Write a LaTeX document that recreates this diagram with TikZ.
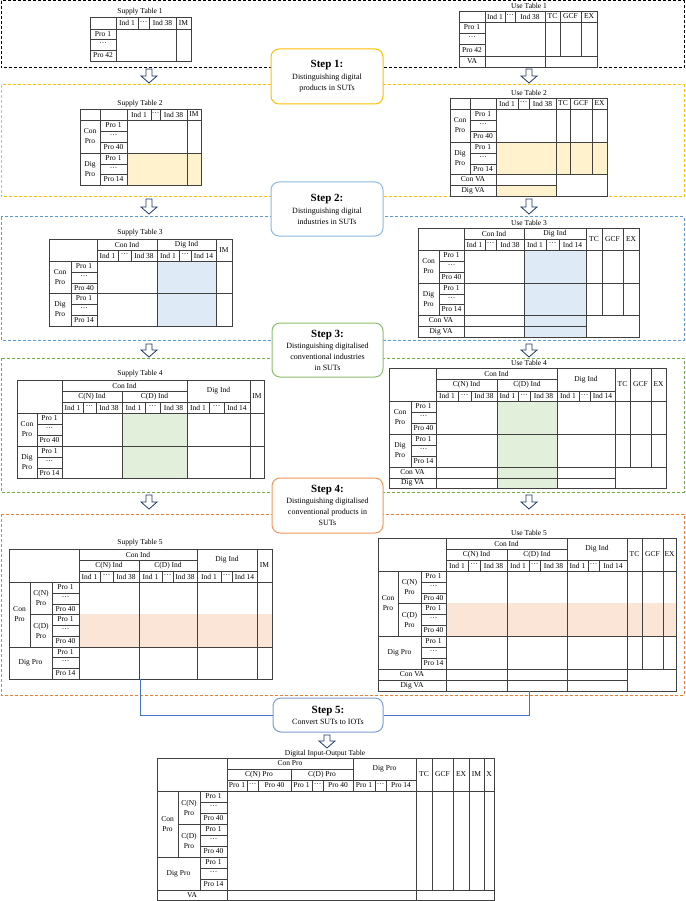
\documentclass[tikz,border=0pt]{standalone}
\usepackage{fontspec}
\setmainfont{Liberation Serif}
\definecolor{tline}{HTML}{404040}
\definecolor{fy}{HTML}{FFF2CC}
\definecolor{fb}{HTML}{DEEBF7}
\definecolor{fg}{HTML}{E2EFDA}
\definecolor{fo}{HTML}{FBE5D6}
\definecolor{cy}{HTML}{FFC000}
\definecolor{cb}{HTML}{5B9BD5}
\definecolor{cg}{HTML}{70AD47}
\definecolor{co}{HTML}{ED7D31}
\definecolor{navy}{HTML}{203864}
\definecolor{lnk}{HTML}{4472C4}
\newcounter{cc}
\tikzset{
 tl/.style={draw=tline,line width=0.6pt},
 tx/.style={inner sep=0pt,align=center,font=\fontsize{7.5}{10}\selectfont},
 ttlst/.style={inner sep=0pt,font=\fontsize{7.5}{9}\selectfont},
 frame/.style={line width=1pt,dash pattern=on 3pt off 2pt},
 stepbox/.style={draw,line width=1pt,rounded corners=8pt,fill=white,align=center,inner sep=0pt,font=\fontsize{8}{11}\selectfont},
 arr/.style={draw=navy,line width=0.8pt,fill=white},
 conn/.style={draw=lnk,line width=0.8pt}
}
\newcommand{\cel}[5]{\stepcounter{cc}\draw[tl] (#1,#2) rectangle (#3,#4); \node[tx] (n\arabic{cc}) at ({(#1+#3)/2},{(#2+#4)/2}) {#5};}
\newcommand{\fl}[5]{\fill[#5] (#1,#2) rectangle (#3,#4);}
\newcommand{\ttl}[3]{\stepcounter{cc}\node[ttlst] (t\arabic{cc}) at (#1,#2) {#3};}
\newcommand{\harrow}[3]{\draw[arr] ({#1-3},#2) -- ({#1+3},#2) -- ({#1+3},{#3-7}) -- ({#1+8},{#3-7}) -- (#1,#3) -- ({#1-8},{#3-7}) -- ({#1-3},{#3-7}) -- cycle;}
\newcommand{\dd}{···}
\begin{document}
\begin{tikzpicture}[x=1pt,y=-1pt]
\useasboundingbox (0,0) rectangle (685,901);
% frames
\draw[frame,black] (1,1) rectangle (684,68);
\draw[frame,cy] (1,85) rectangle (684,197);
\draw[frame,cb] (1,217) rectangle (684,340);
\draw[frame,cg] (1,358) rectangle (684,492);
\draw[frame,co] (1,514) rectangle (684,695);

% ---------- Supply Table 1
\ttl{140}{12}{Supply Table 1}
\cel{90}{17}{116}{29}{}\cel{116}{17}{138}{29}{Ind 1}\cel{138}{17}{149}{29}{\dd}\cel{149}{17}{176}{29}{Ind 38}\cel{176}{17}{191}{29}{IM}
\cel{90}{29}{116}{39}{Pro 1}\cel{90}{39}{116}{50}{\dd}\cel{90}{50}{116}{61}{Pro 42}
\cel{116}{29}{176}{61}{}\cel{176}{29}{191}{61}{}
% ---------- Use Table 1
\ttl{529}{6}{Use Table 1}
\cel{459}{11}{485}{22}{}\cel{485}{11}{505}{22}{Ind 1}\cel{505}{11}{515}{22}{\dd}\cel{515}{11}{545}{22}{Ind 38}\cel{545}{11}{560}{22}{TC}\cel{560}{11}{581}{22}{GCF}\cel{581}{11}{597}{22}{EX}
\cel{459}{22}{485}{33}{Pro 1}\cel{459}{33}{485}{44}{\dd}\cel{459}{44}{485}{56}{Pro 42}
\cel{485}{22}{545}{56}{}\cel{545}{22}{560}{56}{}\cel{560}{22}{581}{56}{}\cel{581}{22}{597}{56}{}
\cel{459}{56}{485}{67}{VA}\cel{485}{56}{545}{67}{}\cel{545}{56}{597}{67}{}

% ---------- Supply Table 2
\ttl{140}{104}{Supply Table 2}
\fl{127}{153}{201}{185}{fy}
\cel{80}{109}{100}{120}{}\cel{100}{109}{127}{120}{}\cel{127}{109}{151}{120}{Ind 1}\cel{151}{109}{160}{120}{\dd}\cel{160}{109}{187}{120}{Ind 38}\cel{187}{109}{201}{120}{IM}
\cel{80}{120}{100}{153}{Con\\Pro}\cel{100}{120}{127}{131}{Pro 1}\cel{100}{131}{127}{142}{\dd}\cel{100}{142}{127}{153}{Pro 40}
\cel{80}{153}{100}{185}{Dig\\Pro}\cel{100}{153}{127}{164}{Pro 1}\cel{100}{164}{127}{174}{\dd}\cel{100}{174}{127}{185}{Pro 14}
\cel{127}{120}{187}{153}{}\cel{187}{120}{201}{153}{}\cel{127}{153}{187}{185}{}\cel{187}{153}{201}{185}{}
% ---------- Use Table 2
\ttl{529}{93}{Use Table 2}
\fl{496}{142}{607}{174}{fy}\fl{496}{185}{556}{196}{fy}
\cel{450}{98}{470}{109}{}\cel{470}{98}{496}{109}{}\cel{496}{98}{518}{109}{Ind 1}\cel{518}{98}{529}{109}{\dd}\cel{529}{98}{556}{109}{Ind 38}\cel{556}{98}{570}{109}{TC}\cel{570}{98}{592}{109}{GCF}\cel{592}{98}{607}{109}{EX}
\cel{450}{109}{470}{142}{Con\\Pro}\cel{470}{109}{496}{120}{Pro 1}\cel{470}{120}{496}{131}{\dd}\cel{470}{131}{496}{142}{Pro 40}
\cel{450}{142}{470}{174}{Dig\\Pro}\cel{470}{142}{496}{153}{Pro 1}\cel{470}{153}{496}{164}{\dd}\cel{470}{164}{496}{174}{Pro 14}
\foreach \a/\b in {496/556,556/570,570/592,592/607}{\draw[tl] (\a,109) rectangle (\b,142); \draw[tl] (\a,142) rectangle (\b,174);}
\cel{450}{174}{496}{185}{Con VA}\cel{496}{174}{556}{185}{}\cel{450}{185}{496}{196}{Dig VA}\cel{496}{185}{556}{196}{}\cel{556}{174}{607}{196}{}

% ---------- Supply Table 3
\ttl{140}{233}{Supply Table 3}
\fl{157}{261}{216}{326}{fb}
\cel{49}{239}{97}{261}{}\cel{97}{239}{157}{250}{Con Ind}\cel{157}{239}{216}{250}{Dig Ind}\cel{216}{239}{232}{261}{IM}
\cel{97}{250}{118}{261}{Ind 1}\cel{118}{250}{131}{261}{\dd}\cel{131}{250}{157}{261}{Ind 38}\cel{157}{250}{179}{261}{Ind 1}\cel{179}{250}{191}{261}{\dd}\cel{191}{250}{216}{261}{Ind 14}
\cel{49}{261}{71}{293}{Con\\Pro}\cel{71}{261}{97}{272}{Pro 1}\cel{71}{272}{97}{283}{\dd}\cel{71}{283}{97}{293}{Pro 40}
\cel{49}{293}{71}{326}{Dig\\Pro}\cel{71}{293}{97}{304}{Pro 1}\cel{71}{304}{97}{315}{\dd}\cel{71}{315}{97}{326}{Pro 14}
\foreach \a/\b in {97/157,157/216,216/232}{\draw[tl] (\a,261) rectangle (\b,293); \draw[tl] (\a,293) rectangle (\b,326);}
% ---------- Use Table 3
\ttl{529}{223}{Use Table 3}
\fl{524}{250}{586}{337}{fb}
\cel{418}{228}{464}{250}{}\cel{464}{228}{524}{239}{Con Ind}\cel{524}{228}{586}{239}{Dig Ind}\cel{586}{228}{602}{250}{TC}\cel{602}{228}{623}{250}{GCF}\cel{623}{228}{639}{250}{EX}
\cel{464}{239}{485}{250}{Ind 1}\cel{485}{239}{496}{250}{\dd}\cel{496}{239}{524}{250}{Ind 38}\cel{524}{239}{546}{250}{Ind 1}\cel{546}{239}{559}{250}{\dd}\cel{559}{239}{586}{250}{Ind 14}
\cel{418}{250}{439}{283}{Con\\Pro}\cel{439}{250}{464}{261}{Pro 1}\cel{439}{261}{464}{272}{\dd}\cel{439}{272}{464}{283}{Pro 40}
\cel{418}{283}{439}{315}{Dig\\Pro}\cel{439}{283}{464}{294}{Pro 1}\cel{439}{294}{464}{304}{\dd}\cel{439}{304}{464}{315}{Pro 14}
\foreach \a/\b in {464/524,524/586,586/602,602/623,623/639}{\draw[tl] (\a,250) rectangle (\b,283); \draw[tl] (\a,283) rectangle (\b,315);}
\cel{418}{315}{464}{326}{Con VA}\cel{464}{315}{524}{326}{}\cel{524}{315}{586}{326}{}
\cel{418}{326}{464}{337}{Dig VA}\cel{464}{326}{524}{337}{}\cel{524}{326}{586}{337}{}
\cel{586}{315}{639}{337}{}

% ---------- Supply Table 4
\ttl{140}{374}{Supply Table 4}
\fl{122}{413}{187}{478}{fg}
\cel{17}{380}{62}{413}{}\cel{62}{380}{187}{391}{Con Ind}\cel{62}{391}{122}{402}{C(N) Ind}\cel{122}{391}{187}{402}{C(D) Ind}\cel{187}{380}{250}{402}{Dig Ind}\cel{250}{380}{264}{413}{IM}
\cel{62}{402}{83}{413}{Ind 1}\cel{83}{402}{96}{413}{\dd}\cel{96}{402}{122}{413}{Ind 38}\cel{122}{402}{145}{413}{Ind 1}\cel{145}{402}{160}{413}{\dd}\cel{160}{402}{187}{413}{Ind 38}\cel{187}{402}{209}{413}{Ind 1}\cel{209}{402}{224}{413}{\dd}\cel{224}{402}{250}{413}{Ind 14}
\cel{17}{413}{37}{446}{Con\\Pro}\cel{37}{413}{62}{424}{Pro 1}\cel{37}{424}{62}{435}{\dd}\cel{37}{435}{62}{446}{Pro 40}
\cel{17}{446}{37}{478}{Dig\\Pro}\cel{37}{446}{62}{457}{Pro 1}\cel{37}{457}{62}{468}{\dd}\cel{37}{468}{62}{478}{Pro 14}
\foreach \a/\b in {62/122,122/187,187/250,250/264}{\draw[tl] (\a,413) rectangle (\b,446); \draw[tl] (\a,446) rectangle (\b,478);}
% ---------- Use Table 4
\ttl{529}{363}{Use Table 4}
\fl{497}{401}{557}{488}{fg}
\cel{389}{368}{436}{401}{}\cel{436}{368}{557}{379}{Con Ind}\cel{436}{379}{497}{391}{C(N) Ind}\cel{497}{379}{557}{391}{C(D) Ind}\cel{557}{368}{615}{391}{Dig Ind}\cel{615}{368}{630}{401}{TC}\cel{630}{368}{651}{401}{GCF}\cel{651}{368}{666}{401}{EX}
\cel{436}{391}{458}{401}{Ind 1}\cel{458}{391}{471}{401}{\dd}\cel{471}{391}{497}{401}{Ind 38}\cel{497}{391}{518}{401}{Ind 1}\cel{518}{391}{530}{401}{\dd}\cel{530}{391}{557}{401}{Ind 38}\cel{557}{391}{579}{401}{Ind 1}\cel{579}{391}{590}{401}{\dd}\cel{590}{391}{615}{401}{Ind 14}
\cel{389}{401}{411}{434}{Con\\Pro}\cel{411}{401}{436}{412}{Pro 1}\cel{411}{412}{436}{423}{\dd}\cel{411}{423}{436}{434}{Pro 40}
\cel{389}{434}{411}{467}{Dig\\Pro}\cel{411}{434}{436}{445}{Pro 1}\cel{411}{445}{436}{456}{\dd}\cel{411}{456}{436}{467}{Pro 14}
\foreach \a/\b in {436/497,497/557,557/615,615/630,630/651,651/666}{\draw[tl] (\a,401) rectangle (\b,434); \draw[tl] (\a,434) rectangle (\b,467);}
\cel{389}{467}{436}{478}{Con VA}\cel{436}{467}{497}{478}{}\cel{497}{467}{557}{478}{}\cel{557}{467}{615}{478}{}
\cel{389}{478}{436}{488}{Dig VA}\cel{436}{478}{497}{488}{}\cel{497}{478}{557}{488}{}\cel{557}{478}{615}{488}{}
\cel{615}{467}{666}{488}{}

% ---------- Supply Table 5
\ttl{140}{543}{Supply Table 5}
\fl{79}{614}{272}{647}{fo}
\cel{9}{549}{79}{582}{}\cel{79}{549}{197}{560}{Con Ind}\cel{79}{560}{139}{571}{C(N) Ind}\cel{139}{560}{197}{571}{C(D) Ind}\cel{197}{549}{257}{571}{Dig Ind}\cel{257}{549}{272}{582}{IM}
\cel{79}{571}{100}{582}{Ind 1}\cel{100}{571}{113}{582}{\dd}\cel{113}{571}{139}{582}{Ind 38}\cel{139}{571}{162}{582}{Ind 1}\cel{162}{571}{173}{582}{\dd}\cel{173}{571}{197}{582}{Ind 38}\cel{197}{571}{221}{582}{Ind 1}\cel{221}{571}{232}{582}{\dd}\cel{232}{571}{257}{582}{Ind 14}
\cel{9}{582}{30}{647}{Con\\Pro}\cel{30}{582}{52}{614}{C(N)\\Pro}\cel{30}{614}{52}{647}{C(D)\\Pro}\cel{9}{647}{52}{679}{Dig Pro}
\cel{52}{582}{79}{593}{Pro 1}\cel{52}{593}{79}{604}{\dd}\cel{52}{604}{79}{614}{Pro 40}
\cel{52}{614}{79}{625}{Pro 1}\cel{52}{625}{79}{636}{\dd}\cel{52}{636}{79}{647}{Pro 40}
\cel{52}{647}{79}{657}{Pro 1}\cel{52}{657}{79}{668}{\dd}\cel{52}{668}{79}{679}{Pro 14}
\foreach \a/\b in {79/139,139/197,197/257,257/272}{\draw[tl] (\a,582) rectangle (\b,647); \draw[tl] (\a,647) rectangle (\b,679);}
% ---------- Use Table 5
\ttl{529}{533}{Use Table 5}
\fl{446}{603}{676}{636}{fo}
\cel{378}{538}{446}{571}{}\cel{446}{538}{567}{549}{Con Ind}\cel{446}{549}{507}{560}{C(N) Ind}\cel{507}{549}{567}{560}{C(D) Ind}\cel{567}{538}{627}{560}{Dig Ind}\cel{627}{538}{642}{571}{TC}\cel{642}{538}{663}{571}{GCF}\cel{663}{538}{676}{571}{EX}
\cel{446}{560}{468}{571}{Ind 1}\cel{468}{560}{480}{571}{\dd}\cel{480}{560}{507}{571}{Ind 38}\cel{507}{560}{529}{571}{Ind 1}\cel{529}{560}{540}{571}{\dd}\cel{540}{560}{567}{571}{Ind 38}\cel{567}{560}{588}{571}{Ind 1}\cel{588}{560}{599}{571}{\dd}\cel{599}{560}{627}{571}{Ind 14}
\cel{378}{571}{398}{636}{Con\\Pro}\cel{398}{571}{421}{603}{C(N)\\Pro}\cel{398}{603}{421}{636}{C(D)\\Pro}\cel{378}{636}{421}{669}{Dig Pro}
\cel{421}{571}{446}{582}{Pro 1}\cel{421}{582}{446}{593}{\dd}\cel{421}{593}{446}{603}{Pro 40}
\cel{421}{603}{446}{614}{Pro 1}\cel{421}{614}{446}{625}{\dd}\cel{421}{625}{446}{636}{Pro 40}
\cel{421}{636}{446}{647}{Pro 1}\cel{421}{647}{446}{658}{\dd}\cel{421}{658}{446}{669}{Pro 14}
\foreach \a/\b in {446/507,507/567,567/627,627/642,642/663,663/676}{\draw[tl] (\a,571) rectangle (\b,636); \draw[tl] (\a,636) rectangle (\b,669);}
\cel{378}{669}{446}{680}{Con VA}\cel{446}{669}{507}{680}{}\cel{507}{669}{567}{680}{}\cel{567}{669}{627}{680}{}
\cel{378}{680}{446}{691}{Dig VA}\cel{446}{680}{507}{691}{}\cel{507}{680}{567}{691}{}\cel{567}{680}{627}{691}{}
\cel{627}{669}{676}{691}{}

% ---------- IO table
\ttl{325}{754}{Digital Input-Output Table}
\cel{157}{758}{227}{791}{}\cel{227}{758}{353}{769}{Con Pro}\cel{227}{769}{291}{780}{C(N) Pro}\cel{291}{769}{353}{780}{C(D) Pro}\cel{353}{758}{416}{780}{Dig Pro}
\cel{416}{758}{432}{791}{TC}\cel{432}{758}{453}{791}{GCF}\cel{453}{758}{469}{791}{EX}\cel{469}{758}{484}{791}{IM}\cel{484}{758}{494}{791}{X}
\cel{227}{780}{247}{791}{Pro 1}\cel{247}{780}{258}{791}{\dd}\cel{258}{780}{291}{791}{Pro 40}\cel{291}{780}{312}{791}{Pro 1}\cel{312}{780}{323}{791}{\dd}\cel{323}{780}{353}{791}{Pro 40}\cel{353}{780}{375}{791}{Pro 1}\cel{375}{780}{386}{791}{\dd}\cel{386}{780}{416}{791}{Pro 14}
\cel{157}{791}{178}{857}{Con\\Pro}\cel{178}{791}{200}{824}{C(N)\\Pro}\cel{178}{824}{200}{857}{C(D)\\Pro}\cel{157}{857}{200}{890}{Dig Pro}
\cel{200}{791}{227}{802}{Pro 1}\cel{200}{802}{227}{813}{\dd}\cel{200}{813}{227}{824}{Pro 40}
\cel{200}{824}{227}{835}{Pro 1}\cel{200}{835}{227}{846}{\dd}\cel{200}{846}{227}{857}{Pro 40}
\cel{200}{857}{227}{868}{Pro 1}\cel{200}{868}{227}{879}{\dd}\cel{200}{879}{227}{890}{Pro 14}
\foreach \a/\b in {227/416,416/432,432/453,453/469,469/484,484/494}{\draw[tl] (\a,791) rectangle (\b,890);}
\cel{157}{890}{227}{900}{VA}\cel{227}{890}{416}{900}{}\cel{416}{890}{494}{900}{}

% ---------- arrows
\harrow{149}{69}{83}\harrow{529}{69}{83}
\harrow{149}{199}{214}\harrow{529}{199}{214}
\harrow{149}{344}{357}\harrow{529}{344}{357}
\harrow{149}{495}{509}\harrow{529}{495}{509}
\harrow{327}{735}{748}

% ---------- step boxes
\node[stepbox,draw=cy,minimum width=112pt,minimum height=55pt] (s1) at (327,76.5) {{\fontsize{11}{13}\selectfont\bfseries Step 1:}\\[1pt]Distinguishing digital\\products in SUTs};
\node[stepbox,draw=cb!70,minimum width=112pt,minimum height=54pt] (s2) at (327,209) {{\fontsize{11}{13}\selectfont\bfseries Step 2:}\\[1pt]Distinguishing digital\\industries in SUTs};
\node[stepbox,draw=cg!80,minimum width=111pt,minimum height=54pt] (s3) at (327.5,350) {{\fontsize{11}{13}\selectfont\bfseries Step 3:}\\Distinguishing digitalised\\conventional industries\\in SUTs};
\node[stepbox,draw=co!80,minimum width=111pt,minimum height=55pt] (s4) at (327.5,505.5) {{\fontsize{11}{13}\selectfont\bfseries Step 4:}\\Distinguishing digitalised\\conventional products in\\SUTs};
\node[stepbox,draw=lnk!70,minimum width=110pt,minimum height=34pt] (s5) at (328,715) {{\fontsize{11}{13}\selectfont\bfseries Step 5:}\\Convert SUTs to IOTs};

% ---------- connectors
\coordinate (st5b) at (140,679);
\coordinate (ut5b) at (529,691);
\draw[conn] (st5b) |- (s5.west);
\draw[conn] (s5.east) -| (ut5b);
\end{tikzpicture}
\end{document}
